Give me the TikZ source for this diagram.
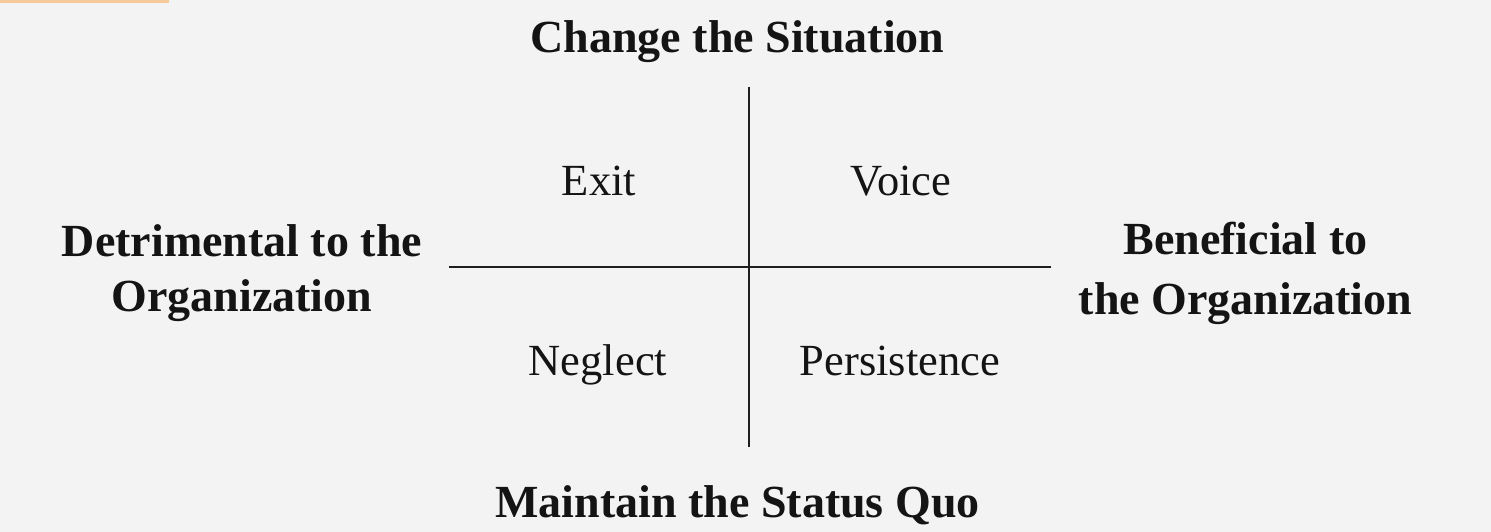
\documentclass[tikz,border=0pt]{standalone}
\usepackage{fontspec}
\setmainfont{Liberation Serif}
\definecolor{bgc}{HTML}{F3F3F3}
\definecolor{strip}{HTML}{F5C99A}
\definecolor{ink}{HTML}{141414}
\definecolor{axisc}{HTML}{1E1E1E}
\begin{document}
\begin{tikzpicture}[x=1pt,y=-1pt,
  axislabel/.style={font=\fontsize{46}{54}\selectfont\bfseries, text=ink, inner sep=0pt, align=center},
  quadlabel/.style={font=\fontsize{44.5}{50}\selectfont, text=ink, inner sep=0pt, anchor=base},
  axisline/.style={draw=axisc, line width=2pt}]
\useasboundingbox (0,0) rectangle (1491,532);
\fill[bgc] (0,0) rectangle (1491,532);
\fill[strip] (0,0) rectangle (169,3.5);
% axes
\coordinate (vtop) at (749,87);
\coordinate (vbot) at (749,447);
\coordinate (hleft) at (449,267);
\coordinate (hright) at (1051,267);
\draw[axisline] (vtop) -- (vbot);
\draw[axisline] (hleft) -- (hright);
% axis labels
\node[axislabel, anchor=base] (top) at (737.5,52.5) {Change the Situation};
\node[axislabel, anchor=base] (bottom) at (737.5,517) {Maintain the Status Quo};
\node[axislabel, anchor=base] (left) at (242,311) {Detrimental to the\\[1pt]Organization};
\node[axislabel, anchor=base] (right) at (1245.5,314) {Beneficial to\\[6pt]the Organization};
% quadrant labels
\node[quadlabel] (exit) at (599,195) {Exit};
\node[quadlabel] (voice) at (901,195) {Voice};
\node[quadlabel] (neglect) at (598,375) {Neglect};
\node[quadlabel] (persist) at (900,375) {Persistence};
\end{tikzpicture}
\end{document}
